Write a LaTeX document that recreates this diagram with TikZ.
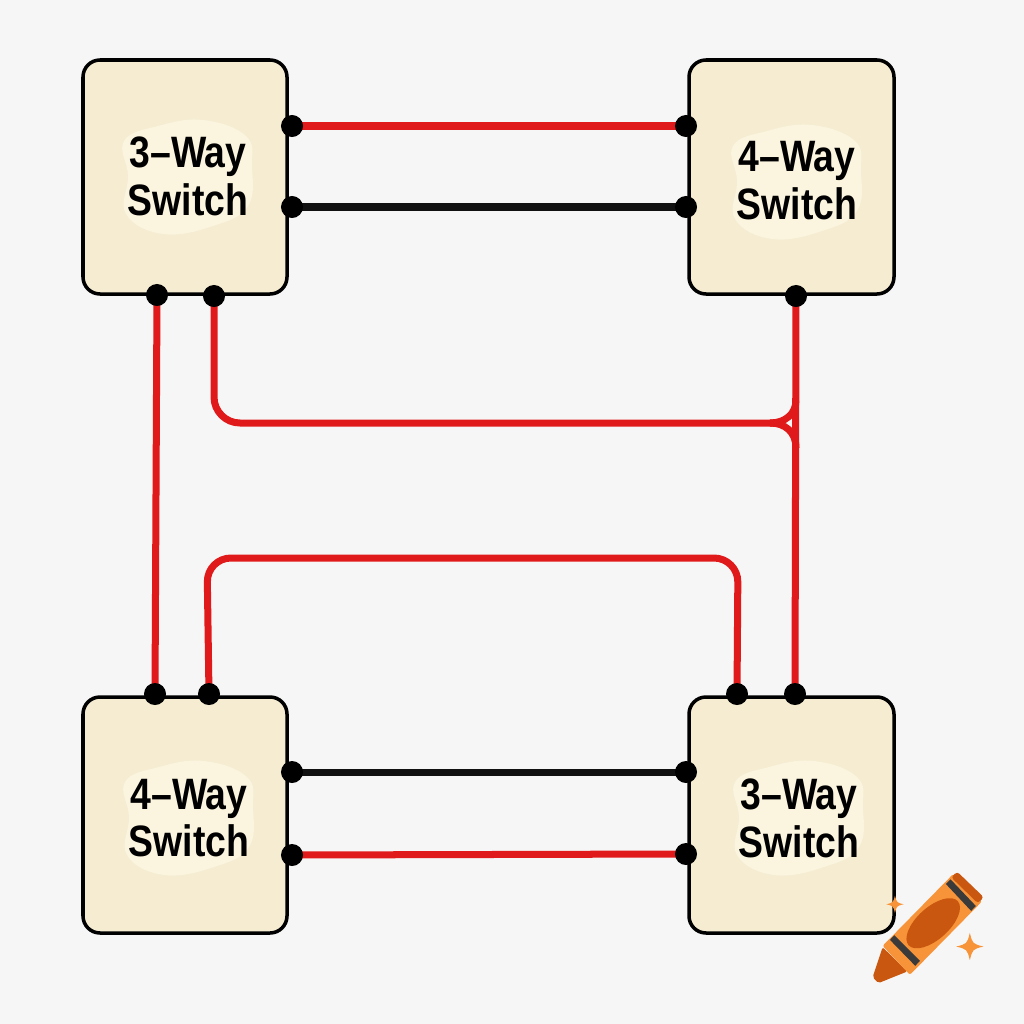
\documentclass[tikz,border=0pt]{standalone}
\usepackage{fontspec}
\setmainfont{Liberation Sans}
\definecolor{bgc}{HTML}{F6F6F6}
\definecolor{boxc}{HTML}{F5ECD2}
\definecolor{haloc}{HTML}{FBF4DF}
\definecolor{redw}{HTML}{E01A1A}
\definecolor{blkw}{HTML}{111111}
\definecolor{crayo}{HTML}{F7943A}
\definecolor{crayd}{HTML}{C9570F}
\definecolor{crayb}{HTML}{3A3A3A}
\tikzset{
  switchbox/.style={draw=black,line width=0.035cm,fill=boxc,rounded corners=0.17cm,inner sep=0pt},
  halo/.style={fill=haloc,draw=none},
  lbl/.style={font=\fontsize{12.5}{13.6}\selectfont\bfseries,align=center,inner sep=0pt,text=black,xscale=0.85},
  term/.style={circle,fill=black,draw=none,minimum size=0.22cm,inner sep=0pt},
  redwire/.style={draw=redw,line width=0.07cm},
  blkwire/.style={draw=blkw,line width=0.07cm},
}
\newcommand{\sparkle}[3]{\fill[crayo] (#1-#3,#2) .. controls (#1-0.2*#3,#2-0.2*#3) .. (#1,#2-#3) .. controls (#1+0.2*#3,#2-0.2*#3) .. (#1+#3,#2) .. controls (#1+0.2*#3,#2+0.2*#3) .. (#1,#2+#3) .. controls (#1-0.2*#3,#2+0.2*#3) .. cycle;}
\newcommand{\blob}[2]{\fill[halo,shift={(#1,#2)}] plot[smooth cycle,tension=0.7] coordinates {(-64,-35) (-30,-50) (15,-56) (58,-40) (64,-10) (60,30) (25,50) (-25,58) (-62,38) (-60,0)};}
\begin{document}
\begin{tikzpicture}[x=0.01cm,y=-0.01cm]
\useasboundingbox (0,0) rectangle (1024,1024);
\fill[bgc] (0,0) rectangle (1024,1024);

% boxes
\draw[switchbox] (83,60) rectangle (287,294);
\draw[switchbox] (689,60) rectangle (894,294);
\draw[switchbox] (83,697) rectangle (287,933);
\draw[switchbox] (689,697) rectangle (894,933);

% halos
\blob{188}{176}
\blob{797}{181}
\blob{189}{817}
\blob{799}{817}

% labels
\node[lbl] (ltl) at (188,176) {3–Way\\Switch};
\node[lbl] (ltr) at (797,181) {4–Way\\Switch};
\node[lbl] (lbl) at (189,818) {4–Way\\Switch};
\node[lbl] (lbr) at (799,818) {3–Way\\Switch};

\path
 (292,126) coordinate (a1) (292,207) coordinate (a2)
 (157,295) coordinate (a3) (214,296) coordinate (a4)
 (686,126) coordinate (b1) (686,207) coordinate (b2)
 (796,296) coordinate (b3)
 (155,694) coordinate (c1) (209,694) coordinate (c2)
 (292,772) coordinate (c3) (292,855) coordinate (c4)
 (737,694) coordinate (d1) (795,694) coordinate (d2)
 (686,772) coordinate (d3) (686,854) coordinate (d4)
 (780,423) coordinate (junc);

% wires
\draw[redwire] (a1) -- (b1);
\draw[blkwire] (a2) -- (b2);
\draw[blkwire] (c3) -- (d3);
\draw[redwire] (c4) -- (d4);
\draw[redwire] (a3) -- (c1);
\draw[redwire] (b3) -- (d2);
\draw[redwire,rounded corners=0.26cm] (a4) -- (214,423) -- (junc);
\draw[redwire,rounded corners=0.24cm] (c2) -- (207,558) -- (738,558) -- (d1);
\draw[redwire] (770,423) .. controls (785,423) and (796,414) .. (796,400);
\draw[redwire] (770,423) .. controls (785,423) and (796,432) .. (796,448);

% terminals
\foreach \n in {a1,a2,a3,a4,b1,b2,b3,c1,c2,c3,c4,d1,d2,d3,d4}
  \node[term] (t\n) at (\n) {};

% crayon
\begin{scope}[shift={(860,860)},x=0.003333cm,y=-0.003333cm]
 \fill[crayd,rounded corners=0.02cm] (68,262) -- (38,352) -- (55,370) -- (142,335) -- cycle;
 \fill[crayo,rounded corners=0.02cm] (68,258) -- (280,42) -- (366,125) -- (150,345) -- cycle;
 \fill[crayd,rounded corners=0.03cm] (274,52) -- (292,35) -- (372,112) -- (354,130) -- cycle;
 \fill[crayb] (258,72) -- (272,58) -- (348,138) -- (334,153) -- cycle;
 \fill[crayb] (90,240) -- (103,226) -- (180,303) -- (166,318) -- cycle;
 \fill[crayd,rotate around={42:(220,190)}] (220,190) ellipse [x radius=0.33cm,y radius=0.16cm];
 \sparkle{105}{133}{26}
 \sparkle{330}{260}{41}
\end{scope}
\end{tikzpicture}
\end{document}
